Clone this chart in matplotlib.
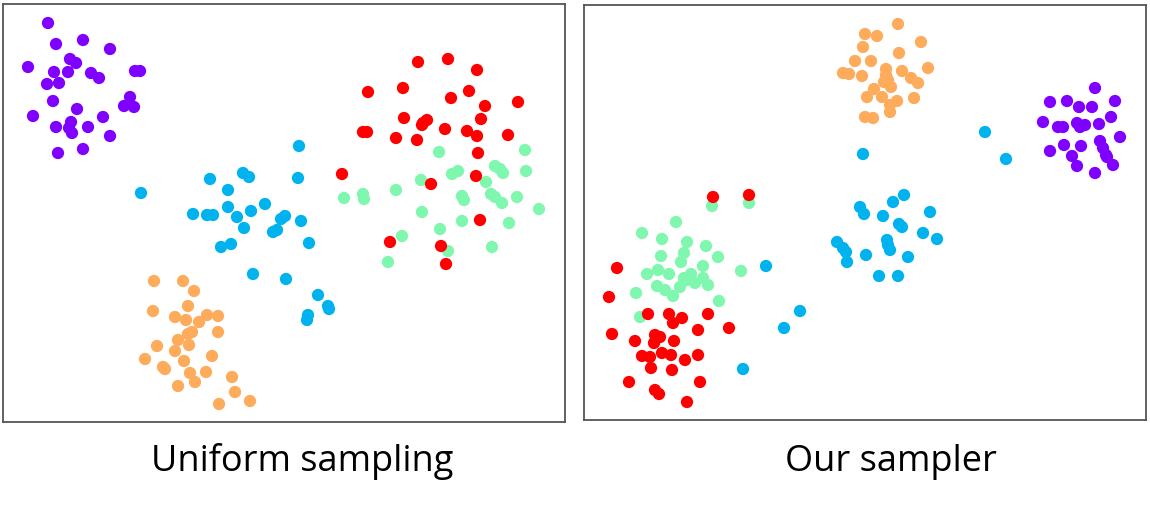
import matplotlib.pyplot as plt

# Colours of the five clusters
PURPLE = '#8000ff'
BLUE = '#00b2ee'
GREEN = '#80f7ae'
RED = '#ff0000'
ORANGE = '#ffab5c'

# Left panel: uniform sampling (coordinates)
# ---------------------------------------------------------------
uPurpleX = [48, 56, 83, 110, 28, 70, 76, 54, 68, 91, 99, 135, 140, 47, 59, 53, 130, 124, 134, 77,
            33, 103, 56, 71, 69, 72, 88, 110, 83, 58]
uPurpleY = [23, 44, 40, 49, 67, 59, 63, 72, 72, 73, 78, 71, 71, 84, 83, 101, 97, 106, 107, 109,
            116, 117, 127, 122, 128, 133, 127, 136, 149, 153]

uBlueX = [141, 210, 243, 249, 298, 228, 228, 193, 207, 213, 237, 251, 265, 281, 285, 301, 244, 273,
          277, 221, 231, 309, 253, 286, 318, 328, 329, 308, 307, 299]
uBlueY = [193, 179, 173, 177, 178, 190, 207, 214, 215, 215, 217, 211, 204, 219, 216, 221, 228, 232,
          230, 247, 244, 243, 274, 279, 295, 306, 309, 315, 320, 146]

uOrangeX = [154, 183, 194, 188, 153, 175, 186, 199, 207, 218, 192, 188, 218, 178, 189, 157, 175, 212,
            145, 184, 163, 165, 190, 206, 195, 178, 232, 235, 219, 250]
uOrangeY = [281, 281, 291, 306, 311, 317, 320, 322, 315, 316, 332, 334, 332, 340, 345, 346, 351, 356,
            359, 361, 367, 369, 373, 372, 382, 386, 377, 392, 404, 401]

uRedX = [418, 448, 477, 368, 403, 469, 451, 518, 485, 404, 427, 422, 423, 481, 363, 367, 396, 417,
         445, 467, 477, 508, 478, 342, 476, 431, 480, 390, 441, 446]
uRedY = [62, 59, 70, 92, 88, 91, 98, 102, 106, 118, 120, 125, 123, 119, 132, 132, 138, 140,
         129, 131, 136, 135, 153, 174, 176, 184, 220, 242, 246, 264]

uGreenX = [439, 525, 495, 500, 503, 526, 458, 452, 421, 486, 396, 344, 363, 364, 462, 464, 491, 495,
           502, 517, 539, 422, 462, 509, 440, 402, 492, 448, 388]
uGreenY = [152, 150, 166, 169, 173, 171, 171, 174, 180, 182, 190, 198, 194, 199, 196, 200, 194, 197,
           203, 197, 209, 212, 221, 223, 229, 236, 247, 251, 262]

# Right panel: our sampler
# ------------------------
sOrangeX = [898, 865, 877, 921, 863, 899, 855, 871, 886, 902, 928, 843, 849, 862, 886, 888, 884, 911,
            918, 891, 874, 867, 882, 897, 914, 890, 890, 865, 873]
sOrangeY = [24, 34, 36, 42, 47, 53, 61, 61, 69, 71, 68, 73, 74, 76, 75, 80, 82, 78,
            83, 87, 89, 97, 97, 101, 98, 105, 112, 117, 118]

sPurpleX = [1095, 1050, 1067, 1079, 1092, 1115, 1043, 1058, 1063, 1077, 1080, 1085, 1099, 1111, 1120,
            1050, 1064, 1081, 1100, 1103, 1106, 1072, 1077, 1113, 1095, 1107]
sPurpleY = [88, 102, 101, 107, 107, 101, 122, 127, 127, 123, 127, 125, 124, 117, 137,
            151, 145, 146, 141, 148, 155, 156, 166, 165, 173, 157]

sBlueX = [766, 800, 784, 837, 843, 846, 847, 860, 864, 866, 883, 893, 904, 899, 902, 887, 888, 890,
          879, 898, 908, 923, 930, 937, 863, 985, 1006, 743]
sBlueY = [266, 311, 328, 242, 248, 252, 262, 207, 214, 255, 216, 202, 195, 224, 227, 240, 245, 250,
          276, 276, 257, 233, 212, 239, 154, 132, 159, 369]

sGreenX = [712, 749, 676, 642, 662, 687, 706, 661, 684, 681, 718, 703, 741, 658, 669, 647, 691, 684,
           687, 695, 703, 708, 680, 657, 665, 636, 673, 719, 640]
sGreenY = [206, 203, 222, 233, 239, 242, 246, 256, 253, 262, 257, 266, 271, 270, 274, 274, 274, 278,
           280, 283, 278, 285, 287, 286, 290, 293, 296, 301, 317]

sRedX = [713, 749, 617, 609, 648, 669, 682, 673, 708, 729, 698, 612, 655, 660, 654, 674, 635, 642,
         650, 662, 671, 685, 698, 651, 672, 629, 700, 655, 659, 687]
sRedY = [197, 195, 268, 297, 314, 314, 318, 323, 314, 328, 330, 334, 335, 337, 343, 341, 341, 356,
         357, 353, 355, 360, 355, 368, 370, 382, 382, 390, 394, 402]

labels = ['Uniform sampling', 'Our sampler']

# Figure layout (pixel boxes of the two panels)
# ---------------------------------------------
W, H = 1150, 511
fig = plt.figure(figsize=(W / 100, H / 100), dpi=100)

boxes = [(3, 4, 565, 422), (584, 5, 1146, 420)]
labelX = [302, 891]
panels = [
    [(uPurpleX, uPurpleY, PURPLE), (uBlueX, uBlueY, BLUE), (uOrangeX, uOrangeY, ORANGE),
     (uGreenX, uGreenY, GREEN), (uRedX, uRedY, RED)],
    [(sOrangeX, sOrangeY, ORANGE), (sPurpleX, sPurpleY, PURPLE), (sBlueX, sBlueY, BLUE),
     (sGreenX, sGreenY, GREEN), (sRedX, sRedY, RED)],
]

for (x0, y0, x1, y1), series, label, lx in zip(boxes, panels, labels, labelX):
    ax = fig.add_axes([x0 / W, 1 - y1 / H, (x1 - x0) / W, (y1 - y0) / H])
    for xs, ys, c in series:
        ax.scatter(xs, ys, s=78, color=c, edgecolors='none')
    ax.set_xlim(x0, x1)
    ax.set_ylim(y1, y0)
    ax.set_xticks([])
    ax.set_yticks([])
    for sp in ax.spines.values():
        sp.set_color('#555555')
        sp.set_linewidth(1.3)
    fig.text(lx / W, 1 - 462 / H, label, ha='center', va='center',
             fontsize=26, family=['Open Sans', 'DejaVu Sans'])

plt.savefig('out.png', dpi=100)
